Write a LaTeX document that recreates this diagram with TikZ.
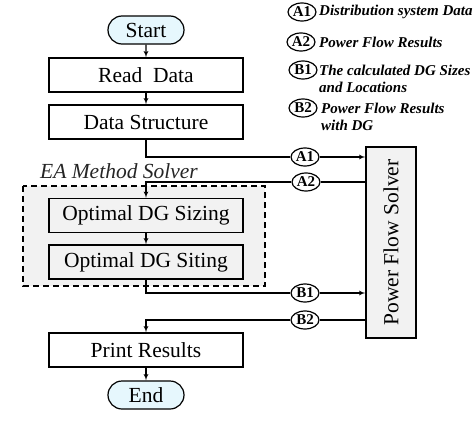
\documentclass[tikz,border=0pt]{standalone}
\usepackage{fontspec}
\setmainfont{Liberation Serif}
\usetikzlibrary{shapes}
\usetikzlibrary{arrows}

\begin{document}
\begin{tikzpicture}[x=1pt,y=-1pt]
\tikzset{proc/.style = {shape=rectangle,draw,line width=1.2pt,minimum width=194pt,minimum height=34pt,inner sep=0pt,font=\fontsize{21.5}{24}\selectfont}}
\tikzset{term/.style = {shape=rounded rectangle,draw,line width=1.2pt,fill=cyan!10,minimum width=76pt,minimum height=28pt,inner sep=0pt,font=\fontsize{21.5}{24}\selectfont}}
\tikzset{solver/.style = {shape=rectangle,draw,line width=1.2pt,fill=black!5,minimum width=50pt,minimum height=191pt,inner sep=0pt,font=\fontsize{21.5}{24}\selectfont}}
\tikzset{tag/.style = {shape=ellipse,draw,line width=1.2pt,fill=white,minimum width=28pt,minimum height=18pt,inner sep=0pt,font=\fontsize{15}{17}\selectfont\bfseries}}
\tikzset{note/.style = {anchor=west,align=left,inner sep=0pt,font=\fontsize{15}{17}\selectfont\bfseries\itshape}}
\tikzset{edge/.style = {->,> = latex',line width=1.2pt}}
\tikzset{link/.style = {line width=1.2pt}}

\useasboundingbox (0,0) rectangle (474,439);

% EA method region
\draw[dash pattern=on 6pt off 4pt,line width=1.2pt,fill=black!5] (23,186) rectangle (265,286);
\node[font=\fontsize{21.5}{24}\selectfont\itshape,text=black!85] (ealbl) at (119,171) {EA Method Solver};

\node[term] (start) at (146,30) {Start};
\node[proc] (read) at (146,75) {Read\ \ Data};
\node[proc] (struct) at (146,122) {Data Structure};
\node[proc] (size) at (146,215.5) {Optimal DG Sizing};
\node[proc] (site) at (146,262) {Optimal DG Siting};
\node[proc] (print) at (146,350) {Print Results};
\node[term] (end) at (146,395) {End};
\node[solver] (pfs) at (391,242.5) {\rotatebox{90}{Power Flow Solver}};

\node[tag] (A1) at (305,157) {A1};
\node[tag] (A2) at (306,182) {A2};
\node[tag] (B1) at (305,293) {B1};
\node[tag] (B2) at (305,320) {B2};

%edges
\draw[edge] (start) to (read);
\draw[edge] (read) to (struct);
\draw[edge] (size) to (site);
\draw[edge] (print) to (end);

\draw[link] (struct.south) |- (A1);
\draw[edge] (A1) -- (A1 -| pfs.west);
\draw[link] (pfs.west |- A2) -- (A2);
\draw[edge] (A2) -| (size.north);
\draw[link] (site.south) |- (B1);
\draw[edge] (B1) -- (B1 -| pfs.west);
\draw[link] (pfs.west |- B2) -- (B2);
\draw[edge] (B2) -| (print.north);

% legend
\node[tag] (kA1) at (302,12) {A1};
\node[tag] (kA2) at (301,42) {A2};
\node[tag] (kB1) at (303,70) {B1};
\node[tag] (kB2) at (303,108) {B2};
\node[note] (tA1) at (319,12) {Distribution system Data};
\node[note] (tA2) at (319,42) {Power Flow Results};
\node[note] (tB1) at (319,78.5) {The calculated DG Sizes\\and Locations};
\node[note] (tB2) at (321,116.5) {Power Flow Results\\with DG};

\end{tikzpicture}
\end{document}
